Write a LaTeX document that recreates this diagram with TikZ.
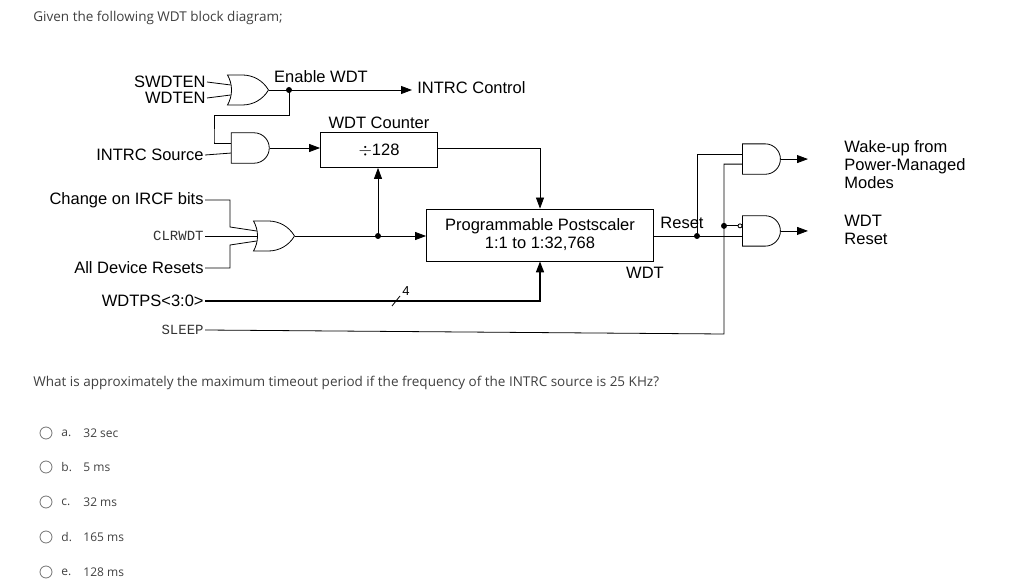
\documentclass[tikz,border=0pt]{standalone}
\usepackage{fontspec}
\setmainfont{Liberation Sans}
\newfontfamily\qfont{Open Sans}
\newfontfamily\monofont{Liberation Mono}
\usetikzlibrary{shapes.gates.logic.US,positioning,arrows.meta}
\tikzstyle{lbl} = [font=\fontsize{16.5}{18}\selectfont, inner sep=1pt]
\tikzstyle{block} = [draw, rectangle, thick, inner sep=0pt, lbl]
\tikzstyle{gate} = [draw, minimum height=30pt, minimum width=38pt, inner sep=0pt]
\tikzstyle{mono} = [font=\monofont\fontsize{14}{16}\selectfont, inner sep=1pt, text=black!80]
\tikzstyle{q} = [font=\qfont\fontsize{13.5}{16}\selectfont, text=black!75, inner sep=0pt]
\tikzstyle{opt} = [font=\qfont\fontsize{12}{14}\selectfont, text=black!75, inner sep=0pt]
\tikzstyle{dot} = [circle, fill, inner sep=0pt, minimum size=6pt]
\tikzstyle{radio} = [circle, draw=black!55, inner sep=0pt, minimum size=12pt]

\begin{document}
\begin{tikzpicture}[x=1pt, y=-1pt, >={Triangle[length=11pt,width=8pt]}, line width=0.8pt]
\useasboundingbox (0,0) rectangle (1027,585);

\node [q, anchor=west] (title) at (33,18) {Given the following WDT block diagram;};

% gates
\node [or gate US, gate] (orEn) at (245,90) {};
\node [and gate US, gate] (andSrc) at (249,148) {};
\node [or gate US, gate] (orClr) at (271,236) {};
\node [and gate US, gate, anchor=input 1] (andWake) at (742,154) {};
\node [and gate US, gate, logic gate inputs=in, anchor=input 2] (andRst) at (742,236) {};

% blocks
\node [block, minimum width=117pt, minimum height=35pt] (counter) at (379,150) {$\div$128};
\node [lbl, above=2pt of counter] (counterT) {WDT Counter};
\node [block, minimum width=227pt, minimum height=52pt, align=center] (post) at (540,235)
  {Programmable Postscaler\\1:1 to 1:32,768};

% input labels
\node [lbl, anchor=east] (swdten) at (207,82) {SWDTEN};
\node [lbl, anchor=east] (wdten) at (207,98) {WDTEN};
\node [lbl, anchor=east] (src) at (205,155) {INTRC Source};
\node [lbl, anchor=east] (ircf) at (205,200) {Change on IRCF bits};
\node [mono, anchor=east] (clrwdt) at (205,236) {CLRWDT};
\node [lbl, anchor=east] (resets) at (205,268) {All Device Resets};
\node [lbl, anchor=east] (wdtps) at (205,301) {WDTPS<3:0>};
\node [mono, anchor=east] (sleep) at (205,330) {SLEEP};

% outputs
\node [lbl, anchor=west] (ctrl) at (416,88) {INTRC Control};
\node [lbl] (enable) at (321,77) {Enable WDT};
\node [lbl, anchor=west, align=left] (wake) at (843,165) {Wake-up from\\Power-Managed\\Modes};
\node [lbl, anchor=west, align=left] (wdtrst) at (843,230) {WDT\\Reset};
\node [lbl] (rstT) at (682,223) {Reset};
\node [lbl] (wdtT) at (645,273) {WDT};

\coordinate (enDot) at (289,90);
\coordinate (clrDot) at (378,236);
\coordinate (rstDot) at (697,236);
\coordinate (slpEnd) at (724,334);
\coordinate (outX) at (808,0);

% connectors
\draw (swdten.east) -- (orEn.input 1);
\draw (wdten.east) -- (orEn.input 2);
\draw [->] (orEn.output) -- (412,90);
\node [dot] at (enDot) {};
\draw (enDot) -- (289,115) -| (214,142) |- (andSrc.input 1);
\draw (src.east) -- (andSrc.input 2);
\draw [->] (andSrc.output) -- (counter.west |- andSrc.output);
\draw [->] (counter.east |- andSrc.output) -| (post.north);

\draw (ircf.east) -| (230,227) -- (orClr.input 1);
\draw (clrwdt.east) -- (orClr.west |- orClr.center);
\draw (resets.east) -| (230,245) -- (orClr.input 2);
\draw [->] (orClr.output) -- (post.west |- orClr.output);
\node [dot] at (clrDot) {};
\draw [->] (clrDot) -- (counter.south -| clrDot);

\draw [line width=1.6pt, ->] (wdtps.east) -| (post.south);
\draw (392,306) -- (400,296);
\node [font=\fontsize{13}{15}\selectfont] at (406,291) {4};

\draw (post.east |- rstDot) -- (andRst.input 2);
\node [dot] at (rstDot) {};
\draw (rstDot) |- (andWake.input 1);
\draw (sleep.east) -- (slpEnd) |- (andWake.input 2);
\coordinate (slpDot) at (slpEnd |- andRst.input 1);
\node [dot] at (slpDot) {};
\draw (slpDot) -- (andRst.input 1);
\draw [->] (andWake.output) -- (outX |- andWake.output);
\draw [->] (andRst.output) -- (outX |- andRst.output);

% question
\node [q, anchor=west] (question) at (33,383) {What is approximately the maximum timeout period if the frequency of the INTRC source is 25 KHz?};
\foreach \y/\l/\v in {433/a./32 sec, 467/b./5 ms, 502/c./32 ms, 537/d./165 ms, 572/e./128 ms} {
  \node [radio] (r\l) at (46,\y) {};
  \node [opt, anchor=west] at (61,\y) {\l};
  \node [opt, anchor=west] at (83,\y) {\v};
}
\end{tikzpicture}
\end{document}
